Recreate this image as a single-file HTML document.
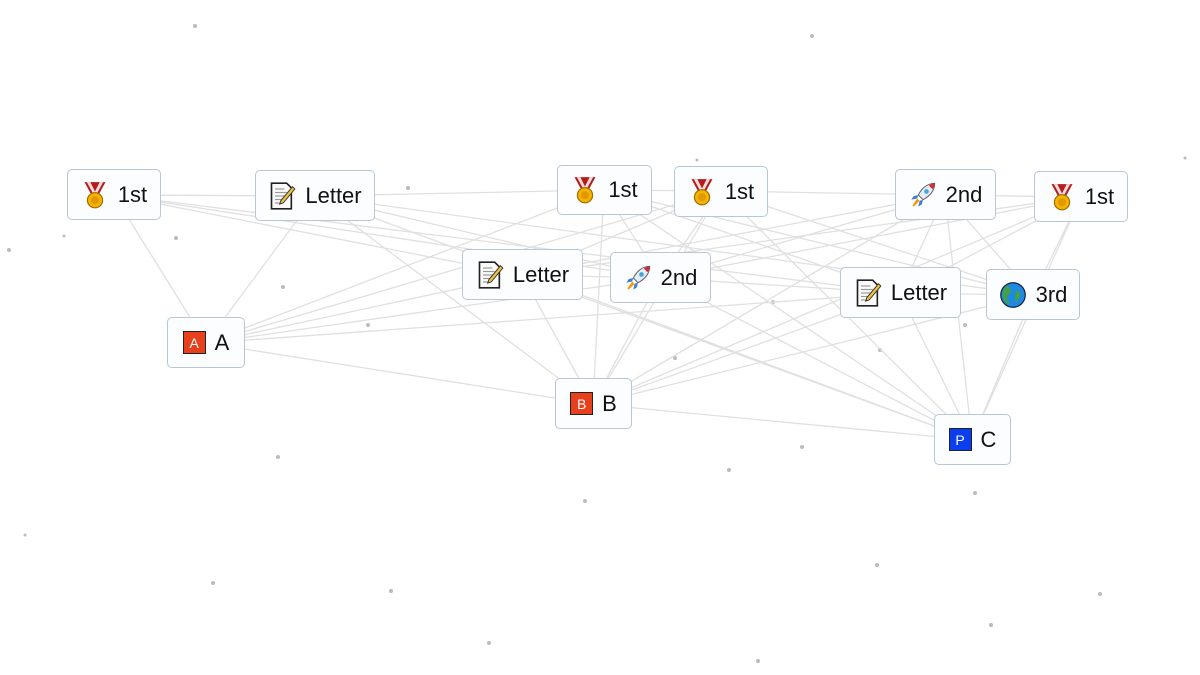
<!DOCTYPE html>
<html><head><meta charset="utf-8"><style>
body{margin:0;width:1200px;height:675px;background:#fff;position:relative;overflow:hidden;font-family:"Liberation Sans",sans-serif}
.n{position:absolute;box-sizing:border-box;border:1px solid #b8c7d6;border-radius:5px;background:#fbfdff;display:flex;align-items:center;justify-content:center;font-size:22px;color:#111;gap:9px}
.n svg{flex:none}
.sq{width:23px;height:23px;border:1px solid #222;color:#fff;font-size:14px;display:flex;align-items:center;justify-content:center;box-sizing:border-box}
</style></head><body>
<svg width="1200" height="675" style="position:absolute;left:0;top:0">
<g fill="#bbb">
<circle cx="195" cy="26" r="2"/><circle cx="812" cy="36" r="2"/><circle cx="1185" cy="158" r="1.5"/><circle cx="697" cy="160" r="1.5"/><circle cx="9" cy="250" r="2"/><circle cx="176" cy="238" r="2"/><circle cx="283" cy="287" r="2"/><circle cx="368" cy="325" r="2"/><circle cx="408" cy="188" r="2"/><circle cx="675" cy="358" r="2"/><circle cx="773" cy="302" r="2"/><circle cx="880" cy="350" r="2"/><circle cx="965" cy="325" r="2"/><circle cx="802" cy="447" r="2"/><circle cx="729" cy="470" r="2"/><circle cx="278" cy="457" r="2"/><circle cx="975" cy="493" r="2"/><circle cx="585" cy="501" r="2"/><circle cx="25" cy="535" r="1.5"/><circle cx="213" cy="583" r="2"/><circle cx="391" cy="591" r="2"/><circle cx="877" cy="565" r="2"/><circle cx="1100" cy="594" r="2"/><circle cx="991" cy="625" r="2"/><circle cx="489" cy="643" r="2"/><circle cx="758" cy="661" r="2"/><circle cx="64" cy="236" r="1.5"/>
</g>
<g stroke="#e0e0e0" stroke-width="1.3">
<line x1="114" y1="195" x2="206" y2="343"/><line x1="315" y1="196" x2="206" y2="343"/>
<line x1="114" y1="195" x2="315" y2="196"/><line x1="315" y1="196" x2="604" y2="190"/>
<line x1="604" y1="190" x2="721" y2="191"/><line x1="721" y1="191" x2="945" y2="195"/><line x1="945" y1="195" x2="1081" y2="197"/>
<line x1="206" y1="343" x2="522" y2="275"/><line x1="206" y1="343" x2="660" y2="278"/><line x1="206" y1="343" x2="604" y2="190"/><line x1="206" y1="343" x2="721" y2="191"/><line x1="206" y1="343" x2="593" y2="404"/><line x1="206" y1="343" x2="900" y2="293"/>
<line x1="114" y1="195" x2="522" y2="275"/><line x1="114" y1="195" x2="660" y2="278"/><line x1="114" y1="195" x2="900" y2="293"/>
<line x1="315" y1="196" x2="593" y2="404"/><line x1="315" y1="196" x2="972" y2="440"/><line x1="315" y1="196" x2="660" y2="278"/><line x1="315" y1="196" x2="1033" y2="295"/>
<line x1="593" y1="404" x2="522" y2="275"/><line x1="593" y1="404" x2="660" y2="278"/><line x1="593" y1="404" x2="604" y2="190"/><line x1="593" y1="404" x2="721" y2="191"/><line x1="593" y1="404" x2="945" y2="195"/><line x1="593" y1="404" x2="1081" y2="197"/><line x1="593" y1="404" x2="900" y2="293"/><line x1="593" y1="404" x2="1033" y2="295"/><line x1="593" y1="404" x2="972" y2="440"/>
<line x1="972" y1="440" x2="900" y2="293"/><line x1="972" y1="440" x2="1033" y2="295"/><line x1="972" y1="440" x2="945" y2="195"/><line x1="972" y1="440" x2="1081" y2="197"/><line x1="972" y1="440" x2="721" y2="191"/><line x1="972" y1="440" x2="604" y2="190"/><line x1="972" y1="440" x2="522" y2="275"/><line x1="972" y1="440" x2="660" y2="278"/>
<line x1="522" y1="275" x2="660" y2="278"/><line x1="660" y1="278" x2="900" y2="293"/><line x1="900" y1="293" x2="1033" y2="295"/>
<line x1="522" y1="275" x2="945" y2="195"/><line x1="522" y1="275" x2="1081" y2="197"/><line x1="660" y1="278" x2="945" y2="195"/><line x1="660" y1="278" x2="1081" y2="197"/><line x1="604" y1="190" x2="1033" y2="295"/><line x1="721" y1="191" x2="1033" y2="295"/><line x1="604" y1="190" x2="900" y2="293"/><line x1="945" y1="195" x2="900" y2="293"/><line x1="945" y1="195" x2="1033" y2="295"/><line x1="1081" y1="197" x2="900" y2="293"/><line x1="1081" y1="197" x2="1033" y2="295"/><line x1="721" y1="191" x2="522" y2="275"/><line x1="604" y1="190" x2="660" y2="278"/><line x1="721" y1="191" x2="660" y2="278"/>
</g>
<defs>
<symbol id="medal" viewBox="0 0 24 24"><path d="M3 1h18l-6 11H9z" fill="#b71c1c"/><path d="M5 1h3l4 8 4-8h3l-6 11h-2z" fill="#fff" opacity=".85"/><circle cx="12" cy="16.5" r="6.5" fill="#f4b400" stroke="#a06800" stroke-width="1"/><circle cx="12" cy="16.5" r="3.5" fill="#e09a00"/></symbol>
<symbol id="letter" viewBox="0 0 24 24"><path d="M3 1h13l4 4v18H3z" fill="#fafafa" stroke="#222" stroke-width="1.4"/><g stroke="#999" stroke-width="1"><line x1="6" y1="6" x2="14" y2="6"/><line x1="6" y1="9" x2="16" y2="9"/><line x1="6" y1="12" x2="15" y2="12"/><line x1="6" y1="15" x2="13" y2="15"/><line x1="6" y1="18" x2="12" y2="18"/></g><path d="M21 4l2 2-10 12-3 1 1-3z" fill="#f0c040" stroke="#333" stroke-width=".8"/></symbol>
<symbol id="rocket" viewBox="0 0 24 24"><path d="M22 2c-6 0-11 4-14 10l4 4c6-3 10-8 10-14z" fill="#e6eef5" stroke="#556" stroke-width=".8"/><path d="M22 2c-2 0-4 1-5 2l3 3c1-1 2-3 2-5z" fill="#d32f2f"/><circle cx="15" cy="9" r="2" fill="#4aa3df"/><path d="M8 12l-4 1-2 3 5-1zM12 16l-1 4-3 2 1-5z" fill="#3d7fd6"/><path d="M7 15l2 2-5 5-1-1z" fill="#ff9800"/></symbol>
<symbol id="globe" viewBox="0 0 24 24"><circle cx="12" cy="12" r="10.5" fill="#1e88e5" stroke="#123" stroke-width="1"/><path d="M7 4c2 1 4 3 3 6-1 2-3 1-3 4 0 2 2 3 2 6-3-1-6-4-6-8 0-4 2-7 4-8zM15 8c2 0 4 2 3 5-1 2-2 3-3 6-1-3-2-4-1-6 0-2 0-3 1-5z" fill="#43a047"/></symbol>
</defs>
</svg>

<div class="n" style="left:67px;top:169px;width:94px;height:51px"><svg width="28" height="28"><use href="#medal"/></svg>1st</div>
<div class="n" style="left:255px;top:170px;width:120px;height:51px"><svg width="28" height="28"><use href="#letter"/></svg>Letter</div>
<div class="n" style="left:167px;top:317px;width:78px;height:51px"><div class="sq" style="background:#e8401c">A</div>A</div>
<div class="n" style="left:557px;top:165px;width:95px;height:50px"><svg width="28" height="28"><use href="#medal"/></svg>1st</div>
<div class="n" style="left:674px;top:166px;width:94px;height:51px"><svg width="28" height="28"><use href="#medal"/></svg>1st</div>
<div class="n" style="left:895px;top:169px;width:101px;height:51px"><svg width="28" height="28"><use href="#rocket"/></svg>2nd</div>
<div class="n" style="left:1034px;top:171px;width:94px;height:51px"><svg width="28" height="28"><use href="#medal"/></svg>1st</div>
<div class="n" style="left:462px;top:249px;width:121px;height:51px"><svg width="28" height="28"><use href="#letter"/></svg>Letter</div>
<div class="n" style="left:610px;top:252px;width:101px;height:51px"><svg width="28" height="28"><use href="#rocket"/></svg>2nd</div>
<div class="n" style="left:840px;top:267px;width:121px;height:51px"><svg width="28" height="28"><use href="#letter"/></svg>Letter</div>
<div class="n" style="left:986px;top:269px;width:94px;height:51px"><svg width="28" height="28"><use href="#globe"/></svg>3rd</div>
<div class="n" style="left:555px;top:378px;width:77px;height:51px"><div class="sq" style="background:#e8401c">B</div>B</div>
<div class="n" style="left:934px;top:414px;width:77px;height:51px"><div class="sq" style="background:#0a3ef0">P</div>C</div>
</body></html>
